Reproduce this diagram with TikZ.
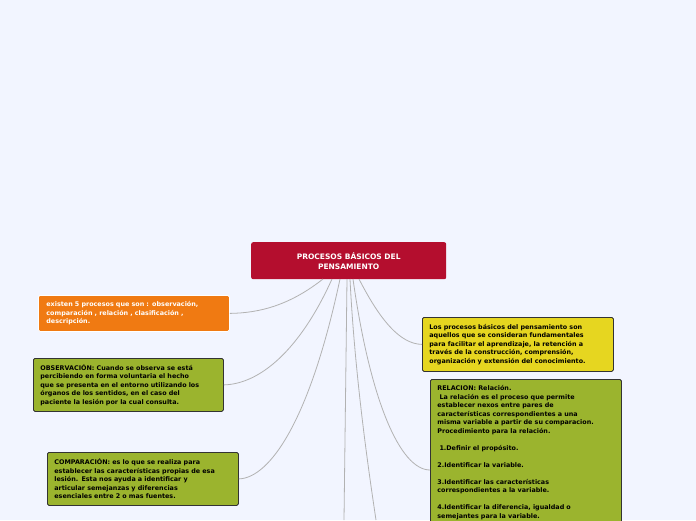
\documentclass[tikz,border=0pt]{standalone}
\usepackage{fontspec}
\setmainfont{DejaVu Sans}
\begin{document}
\begin{tikzpicture}[x=1pt,y=-1pt,
  box/.style={draw=black!80,line width=0.8pt,rounded corners=1.5pt,anchor=north west,align=left,inner sep=0pt,font=\bfseries\fontsize{6.4}{8.5}\selectfont,text=black},
  link/.style={draw=gray!60,line width=0.8pt}]
\fill[fill={rgb,255:red,242;green,245;blue,255}] (0,0) rectangle (696,520);
\useasboundingbox (0,0) rectangle (696,520);
\node[fill={rgb,255:red,180;green,14;blue,46},rounded corners=2pt,minimum width=195pt,minimum height=37pt,anchor=north west,text=white,align=center,font=\bfseries\fontsize{7.5}{10}\selectfont] (t) at (251,242) {PROCESOS BÁSICOS DEL\\PENSAMIENTO};
\node[box,draw=white,fill={rgb,255:red,240;green,122;blue,18},text=white,minimum width=191pt,minimum height=36pt,text width=175pt] (o) at (38,295) {existen 5 procesos que son : observación,\\comparación , relación , clasificación ,\\descripción.};
\node[box,fill={rgb,255:red,155;green,180;blue,46},minimum width=190pt,minimum height=53pt,text width=176pt] (ob) at (33,358) {OBSERVACIÓN: Cuando se observa se está\\percibiendo en forma voluntaria el hecho\\que se presenta en el entorno utilizando los\\órganos de los sentidos, en el caso del\\paciente la lesión por la cual consulta.};
\node[box,fill={rgb,255:red,155;green,180;blue,46},minimum width=191pt,minimum height=53pt,text width=177pt] (co) at (47,452) {COMPARACIÓN: es lo que se realiza para\\establecer las características propias de esa\\lesión. Esta nos ayuda a identificar y\\articular semejanzas y diferencias\\esenciales entre 2 o mas fuentes.};
\node[box,fill={rgb,255:red,230;green,214;blue,32},minimum width=191pt,minimum height=54pt,text width=177pt] (y) at (422,317) {Los procesos básicos del pensamiento son\\aquellos que se consideran fundamentales\\para facilitar el aprendizaje, la retención a\\través de la construcción, comprensión,\\organización y extensión del conocimiento.};
\node[box,fill={rgb,255:red,155;green,180;blue,46},minimum width=191pt,inner xsep=7pt,inner ysep=6pt,text width=177pt] (r) at (430,379) {RELACION: Relación.\\\ La relación es el proceso que permite\\establecer nexos entre pares de\\características correspondientes a una\\misma variable a partir de su comparacion.\\Procedimiento para la relación.\\[8.5pt]\ 1.Definir el propósito.\\[8.5pt]2.Identificar la variable.\\[8.5pt]3.Identificar las características\\correspondientes a la variable.\\[8.5pt]4.Identificar la diferencia, igualdad o\\semejantes para la variable.\\[20pt]};
\coordinate (d1) at (344,520);
\coordinate (d2) at (376,520);
\draw[link] (323,279) .. controls (290,305) and (260,313) .. (o.east);
\draw[link] (332,279) .. controls (300,350) and (260,384) .. (ob.east);
\draw[link] (340,279) .. controls (310,420) and (270,478) .. (co.east);
\draw[link] (359,279) .. controls (380,320) and (400,344) .. (y.west);
\draw[link] (353,279) .. controls (370,400) and (400,470) .. (r.west |- 0,470);
\draw[link] (347,279) -- (d1);
\draw[link] (350,279) .. controls (355,380) and (370,480) .. (d2);
\end{tikzpicture}
\end{document}
